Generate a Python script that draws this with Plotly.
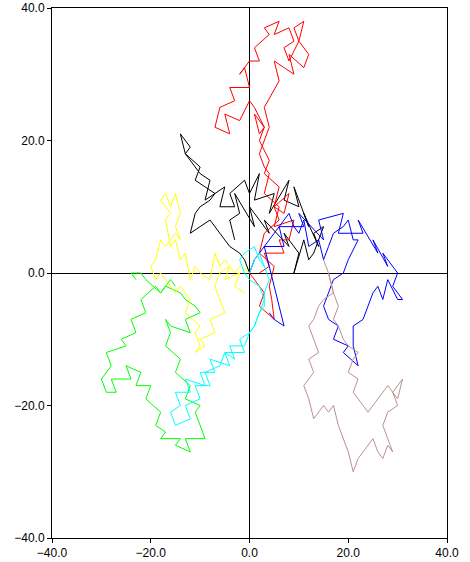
import plotly.graph_objects as go

red_x = [0,1.5,3,2,5,4.5,4,5,2,3,6,5,8,7,5,6,3,4,2,3,1,2,3,1,0,-2,-5,-4,-7,-6,-3,-4,0,-1,-2,0,2,1,4,3,6,5,8,9,7,8,10,9,11,10,12,11,8,9,5,6,3,4,2,3,4,3,6,5,9,8,6,7,3,4,2]
red_y = [0,-1.5,-3,-5,-7,-4,-2,1,3,6,8,10,12,9,10,13,15,17,20,22,24,21,22,25,26,23,24,21,22,25,26,28,28,31,30,32,32,34,36,37,38,36,37,35,34,32,35,37,38,35,33,31,33,30,32,29,25,22,18,16,15,12,10,7,8,5,5,3,3,1,0]
black_x = [0,-1,-2,-4,-5,-7,-8,-10,-12,-11,-10,-8,-7,-9,-11,-10,-13,-12,-14,-13,-12,-10,-8,-9,-5,-6,-3,-4,-1,0,2,1,5,4,8,7,10,9,12,11,14,13,15,13,12,11,9,10,7,8,3,4,0,1,-3,-2,-4,-3]
black_y = [0,2,3,4,5,7,8,7,6,9,10,11,12,13,14,16,18,19,21,18,17,15,14,11,13,10,10,12,14,12,15,11,12,9,14,11,10,13,7,9,4,6,7,3,2,5,0,3,6,4,8,6,10,7,12,9,8,5]
blue_x = [0,1,2,4,5,7,8,9,10,11,12,14,15,16,17,19,20,21,22,20,19,17,16,15,16,18,17,20,19,22,21,21,23,24,25,26,27,28,30,31,29,30,27,28,25,26,22,23,18,19,14,15,10,11,6,7,3,4,5,6,7,5,4]
blue_y = [0,2,3,5,6,8,9,7,6,8,4,5,2,4,6,7,8,5,5,2,0,-1,-3,-5,-7,-8,-10,-11,-12,-14,-11,-8,-7,-5,-3,-2,-4,-1,-4,-4,-2,0,3,1,5,3,8,6,6,9,8,5,9,7,7,4,4,1,-2,-5,-8,-7,-6]
brown_x = [15,16,17,15,14,13,12,13,14,12,13,11,12,13,15,16,17,18,19,20,21,22,23,24,25,26,27,28,29,28,27,28,30,29,31,30,28,27,26,24,23,22,21,22,20,21,22,20,19,18,17,18,17,16]
brown_y = [2,0,-3,-4,-5,-7,-8,-10,-12,-13,-15,-17,-19,-22,-20,-21,-20,-23,-25,-27,-30,-28,-27,-26,-25,-27,-28,-26,-27,-25,-23,-21,-20,-18,-16,-19,-17,-18,-19,-21,-20,-19,-18,-16,-15,-13,-12,-11,-10,-8,-7,-5,-3,0]
yellow_x = [0,-2,-3,-5,-6,-7,-8,-10,-11,-12,-13,-14,-15,-16,-17,-16,-18,-17,-16,-15,-14,-15,-14,-15,-17,-18,-19,-20,-19,-18,-17,-15,-14,-12,-13,-10,-11,-10,-11,-9,-10,-7,-8,-5,-6,-7,-6,-4,-5,-2,-3,-1]
yellow_y = [0,1,0,2,1,3,-1,0,1,-1,3,2,5,4,8,9,11,12,10,12,9,7,5,6,4,5,2,1,-1,0,-1,-3,-2,-4,-6,-8,-9,-11,-12,-11,-10,-9,-7,-6,-4,-2,0,1,-1,0,-2,-3]
green_x = [-15,-16,-18,-19,-22,-21,-24,-23,-26,-25,-29,-28,-30,-29,-27,-28,-24,-25,-22,-23,-20,-21,-18,-19,-17,-18,-14,-15,-12,-13,-9,-10,-11,-10,-13,-12,-15,-14,-17,-16,-17,-16,-12,-13,-10,-11,-13,-14,-17,-18,-21,-22,-24,-23]
green_y = [-2,-1,-3,-2,-4,-6,-7,-9,-10,-11,-12,-14,-16,-18,-18,-16,-16,-14,-15,-17,-17,-19,-21,-23,-24,-25,-25,-26,-27,-25,-25,-23,-21,-20,-19,-17,-15,-13,-11,-9,-7,-8,-9,-7,-6,-5,-4,-3,-2,-3,-1,0,0,-1]
cyan_x = [0,1,2,3,4,3,3,2,1,0,-2,-1,-5,-4,-8,-7,-10,-9,-13,-12,-15,-14,-16,-15,-12,-13,-10,-11,-8,-9,-6,-5,-3,-4,-1,0,1,2,3,2,0,-1,-2,-1,1,2,3]
cyan_y = [0,2,3,1,-1,-3,-5,-6,-8,-9,-10,-12,-12,-14,-13,-15,-15,-17,-16,-18,-18,-20,-21,-23,-22,-20,-19,-17,-17,-15,-14,-12,-13,-11,-11,-9,-8,-6,-4,-2,-1,0,2,3,4,2,1]

series = [
    (black_x, black_y, "black"), (red_x, red_y, "red"), (blue_x, blue_y, "blue"),
    (brown_x, brown_y, "#bc8f8f"), (green_x, green_y, "#00ff00"),
    (yellow_x, yellow_y, "#ffff00"), (cyan_x, cyan_y, "#00ffff"),
]

fig = go.Figure()
for x, y, c in series:
    fig.add_trace(go.Scatter(x=x, y=y, mode="lines", line=dict(color=c, width=1)))

ax = dict(range=[-40, 40], dtick=20, tickformat=".1f", showgrid=False,
          zeroline=True, zerolinecolor="black", zerolinewidth=1,
          showline=True, linecolor="black", linewidth=1, mirror=True,
          ticks="outside", ticklen=4, tickcolor="black", automargin=False)
fig.update_layout(
    width=470, height=562, showlegend=False,
    plot_bgcolor="white", paper_bgcolor="white",
    margin=dict(l=52, r=23, t=8, b=24),
    font=dict(family="Liberation Sans", size=12, color="black"),
    xaxis=ax, yaxis=ax,
)
fig.write_html("out.html", config={"displayModeBar": False},
               post_script="document.body.style.margin='0';document.body.style.overflow='hidden';")
